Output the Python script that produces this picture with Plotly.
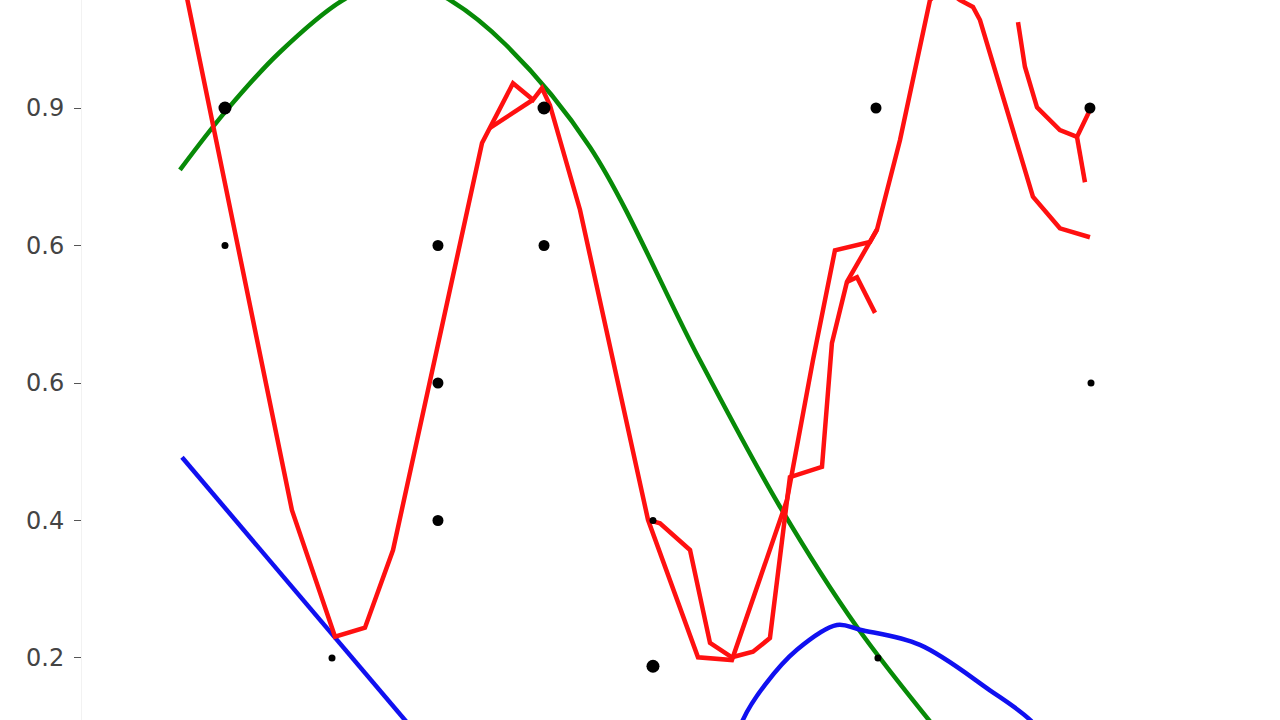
import plotly.graph_objects as go

# y tick labels as printed on the chart
tick_vals = [0.2, 0.4, 0.6, 0.8, 1.0]
tick_text = ["0.2", "0.4", "0.6", "0.6", "0.9"]

# green curve
green_x = [0.583, 1.0, 1.5, 2.093, 2.6, 3.083, 3.6, 4.38, 5.398, 6.139, 6.852, 7.667]
green_y = [0.910, 0.994, 1.080, 1.157, 1.19, 1.157, 1.092, 0.943, 0.633, 0.420, 0.245, 0.081]

# blue line, two visible pieces
blue1_x = [0.602, 2.667, 3.0]
blue1_y = [0.492, 0.110, 0.048]
blue2_x = [5.72, 5.796, 6.0, 6.296, 6.667, 6.88, 7.435, 8.083, 8.454, 8.6]
blue2_y = [0.07, 0.110, 0.161, 0.212, 0.248, 0.241, 0.219, 0.153, 0.110, 0.08]

# red lines
red_main_x = [0.57, 1.62, 2.019, 2.296, 2.556, 2.898, 3.38, 3.667, 3.852, 3.935, 4.009, 4.287, 4.593, 4.917,
              5.38, 5.694, 6.204, 6.444, 6.648, 6.972, 7.037, 7.25, 7.528, 7.65, 7.806, 7.926, 7.991, 8.481, 8.731, 9.009]
red_main_y = [1.22, 0.415, 0.231, 0.244, 0.357, 0.604, 0.949, 1.036, 1.012, 1.029, 1.004, 0.852, 0.633, 0.401,
              0.201, 0.197, 0.430, 0.633, 0.793, 0.805, 0.823, 0.953, 1.157, 1.175, 1.157, 1.147, 1.128, 0.871, 0.825, 0.812]
red_peak_x = [3.454, 3.852]
red_peak_y = [0.971, 1.012]
red_dip_x = [4.917, 5.028, 5.306, 5.491, 5.694]
red_dip_y = [0.401, 0.396, 0.357, 0.222, 0.201]
red_rise_x = [5.694, 5.889, 6.046, 6.231, 6.528, 6.62, 6.759, 6.972, 7.037]
red_rise_y = [0.201, 0.209, 0.229, 0.463, 0.478, 0.658, 0.747, 0.804, 0.823]
red_hook_x = [6.759, 6.852, 7.019]
red_hook_y = [0.747, 0.754, 0.702]
red_tail_x = [8.343, 8.407, 8.519, 8.731, 8.889, 9.009]
red_tail_y = [1.125, 1.060, 1.001, 0.968, 0.958, 0.997]
red_stub_x = [8.889, 8.963]
red_stub_y = [0.958, 0.892]

# black dots
dots_big_x = [1.0, 3.954, 4.963]
dots_big_y = [1.0, 1.0, 0.188]
dots_mid_x = [2.972, 2.972, 2.972, 3.954, 7.028, 9.009]
dots_mid_y = [0.8, 0.6, 0.4, 0.8, 1.0, 1.0]
dots_small_x = [1.0, 1.991, 9.019, 7.046, 4.963]
dots_small_y = [0.8, 0.2, 0.6, 0.2, 0.4]

fig = go.Figure()

fig.add_trace(go.Scatter(x=green_x, y=green_y, mode="lines",
                         line=dict(color="#078a07", width=4.5, shape="spline", smoothing=1.0)))
fig.add_trace(go.Scatter(x=blue1_x, y=blue1_y, mode="lines", line=dict(color="#1010f0", width=4.5)))
fig.add_trace(go.Scatter(x=blue2_x, y=blue2_y, mode="lines", line=dict(color="#1010f0", width=4.5, shape="spline")))

for rx, ry in [(red_main_x, red_main_y), (red_peak_x, red_peak_y), (red_dip_x, red_dip_y),
               (red_rise_x, red_rise_y), (red_hook_x, red_hook_y), (red_tail_x, red_tail_y),
               (red_stub_x, red_stub_y)]:
    fig.add_trace(go.Scatter(x=rx, y=ry, mode="lines", line=dict(color="#ff1010", width=4.5)))

fig.add_trace(go.Scatter(x=dots_big_x, y=dots_big_y, mode="markers", marker=dict(color="black", size=13)))
fig.add_trace(go.Scatter(x=dots_mid_x, y=dots_mid_y, mode="markers", marker=dict(color="black", size=11)))
fig.add_trace(go.Scatter(x=dots_small_x, y=dots_small_y, mode="markers", marker=dict(color="black", size=7)))

fig.update_layout(
    width=1280,
    height=720,
    margin=dict(l=82, r=0, t=0, b=0),
    paper_bgcolor="white",
    plot_bgcolor="white",
    showlegend=False,
    xaxis=dict(range=[-0.324, 10.769], visible=False),
    yaxis=dict(
        range=[0.1098, 1.1571],
        tickvals=tick_vals,
        ticktext=tick_text,
        ticks="outside",
        ticklen=7,
        tickcolor="#555",
        ticklabelstandoff=5,
        showgrid=False,
        zeroline=False,
        showline=True,
        linecolor="#f2f2f2",
        tickfont=dict(family="DejaVu Sans", size=24, color="#444"),
    ),
)

# page margin off so the plot fills the window from the corner
fig.write_html("out.html", config={"displayModeBar": False},
               post_script="document.body.style.margin='0';")
